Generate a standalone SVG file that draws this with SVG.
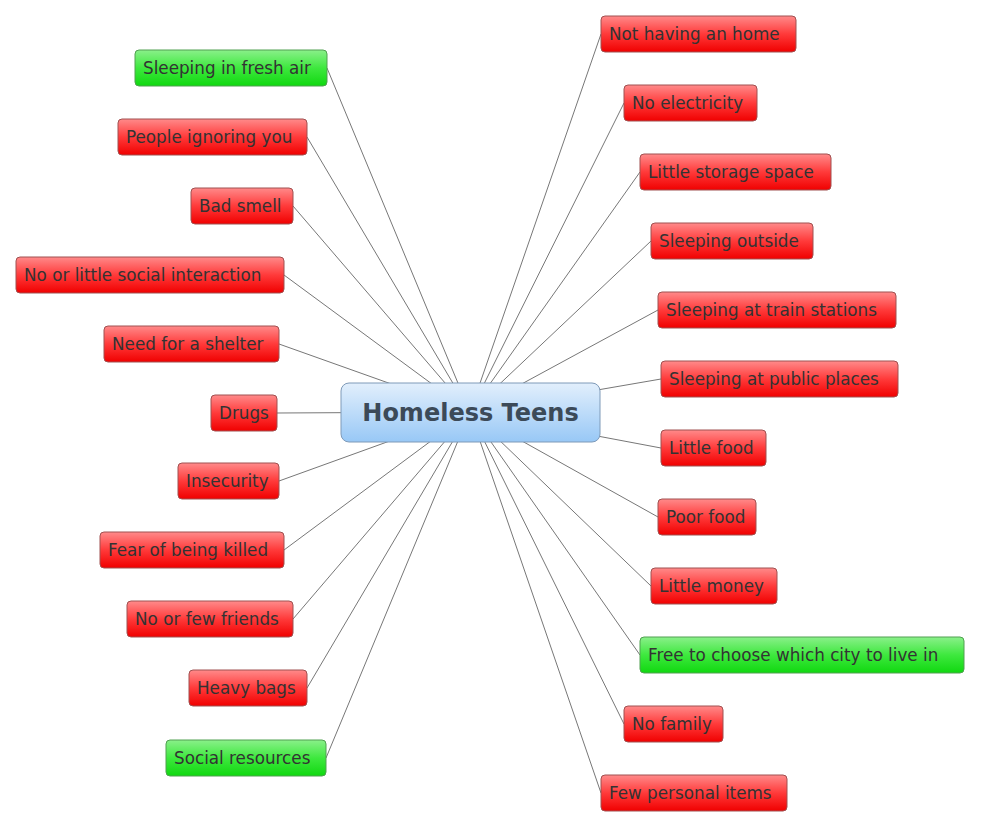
<svg xmlns="http://www.w3.org/2000/svg" width="981" height="828" viewBox="0 0 981 828">
<defs>
<linearGradient id="gr" x1="0" y1="0" x2="0" y2="1"><stop offset="0" stop-color="#ff8a8a"/><stop offset="0.5" stop-color="#ff3a3a"/><stop offset="1" stop-color="#f00000"/></linearGradient>
<linearGradient id="gg" x1="0" y1="0" x2="0" y2="1"><stop offset="0" stop-color="#8af08a"/><stop offset="0.5" stop-color="#3ee83e"/><stop offset="1" stop-color="#10d810"/></linearGradient>
<linearGradient id="gb" x1="0" y1="0" x2="0" y2="1"><stop offset="0" stop-color="#e2effc"/><stop offset="1" stop-color="#98c8f6"/></linearGradient>
</defs>
<style>
.r{fill:url(#gr);stroke:#a05050;stroke-width:1}
.g{fill:url(#gg);stroke:#50a050;stroke-width:1}
.t{font-family:"DejaVu Sans",sans-serif;font-size:16.8px;fill:#333}
.c{stroke:#777;stroke-width:1;fill:none}
</style>
<rect width="981" height="828" fill="#fff"/>
<g id="connectors">
<line class="c" x1="327" y1="68" x2="470" y2="412"/>
<line class="c" x1="307" y1="137" x2="470" y2="412"/>
<line class="c" x1="293" y1="206" x2="470" y2="412"/>
<line class="c" x1="284" y1="275" x2="470" y2="412"/>
<line class="c" x1="279" y1="344" x2="470" y2="412"/>
<line class="c" x1="277" y1="413" x2="470" y2="412"/>
<line class="c" x1="279" y1="481" x2="470" y2="412"/>
<line class="c" x1="284" y1="550" x2="470" y2="412"/>
<line class="c" x1="293" y1="619" x2="470" y2="412"/>
<line class="c" x1="307" y1="688" x2="470" y2="412"/>
<line class="c" x1="326" y1="758" x2="470" y2="412"/>
<line class="c" x1="601" y1="34" x2="470" y2="412"/>
<line class="c" x1="624" y1="103" x2="470" y2="412"/>
<line class="c" x1="640" y1="172" x2="470" y2="412"/>
<line class="c" x1="651" y1="241" x2="470" y2="412"/>
<line class="c" x1="658" y1="310" x2="470" y2="412"/>
<line class="c" x1="661" y1="379" x2="470" y2="412"/>
<line class="c" x1="661" y1="448" x2="470" y2="412"/>
<line class="c" x1="658" y1="517" x2="470" y2="412"/>
<line class="c" x1="651" y1="586" x2="470" y2="412"/>
<line class="c" x1="640" y1="655" x2="470" y2="412"/>
<line class="c" x1="624" y1="724" x2="470" y2="412"/>
<line class="c" x1="601" y1="793" x2="470" y2="412"/>
</g>
<g id="center">
<rect x="341" y="383" width="259" height="59" rx="8" fill="url(#gb)" stroke="#7f9ab8" stroke-width="1"/>
<text x="470.5" y="421" text-anchor="middle" font-family="DejaVu Sans, sans-serif" font-size="24" font-weight="bold" fill="#3c4a58">Homeless Teens</text>
</g>
<g id="n1"><rect class="g" x="135" y="50" width="192" height="36" rx="4"/><text class="t" x="143" y="74">Sleeping in fresh air</text></g>
<g id="n2"><rect class="r" x="118" y="119" width="189" height="36" rx="4"/><text class="t" x="126" y="143">People ignoring you</text></g>
<g id="n3"><rect class="r" x="191" y="188" width="102" height="36" rx="4"/><text class="t" x="199" y="212">Bad smell</text></g>
<g id="n4"><rect class="r" x="16" y="257" width="268" height="36" rx="4"/><text class="t" x="24" y="281">No or little social interaction</text></g>
<g id="n5"><rect class="r" x="104" y="326" width="175" height="36" rx="4"/><text class="t" x="112" y="350">Need for a shelter</text></g>
<g id="n6"><rect class="r" x="211" y="395" width="66" height="36" rx="4"/><text class="t" x="219" y="419">Drugs</text></g>
<g id="n7"><rect class="r" x="178" y="463" width="101" height="36" rx="4"/><text class="t" x="186" y="487">Insecurity</text></g>
<g id="n8"><rect class="r" x="100" y="532" width="184" height="36" rx="4"/><text class="t" x="108" y="556">Fear of being killed</text></g>
<g id="n9"><rect class="r" x="127" y="601" width="166" height="36" rx="4"/><text class="t" x="135" y="625">No or few friends</text></g>
<g id="n10"><rect class="r" x="189" y="670" width="118" height="36" rx="4"/><text class="t" x="197" y="694">Heavy bags</text></g>
<g id="n11"><rect class="g" x="166" y="740" width="160" height="36" rx="4"/><text class="t" x="174" y="764">Social resources</text></g>
<g id="n12"><rect class="r" x="601" y="16" width="195" height="36" rx="4"/><text class="t" x="609" y="40">Not having an home</text></g>
<g id="n13"><rect class="r" x="624" y="85" width="133" height="36" rx="4"/><text class="t" x="632" y="109">No electricity</text></g>
<g id="n14"><rect class="r" x="640" y="154" width="191" height="36" rx="4"/><text class="t" x="648" y="178">Little storage space</text></g>
<g id="n15"><rect class="r" x="651" y="223" width="162" height="36" rx="4"/><text class="t" x="659" y="247">Sleeping outside</text></g>
<g id="n16"><rect class="r" x="658" y="292" width="238" height="36" rx="4"/><text class="t" x="666" y="316">Sleeping at train stations</text></g>
<g id="n17"><rect class="r" x="661" y="361" width="237" height="36" rx="4"/><text class="t" x="669" y="385">Sleeping at public places</text></g>
<g id="n18"><rect class="r" x="661" y="430" width="105" height="36" rx="4"/><text class="t" x="669" y="454">Little food</text></g>
<g id="n19"><rect class="r" x="658" y="499" width="98" height="36" rx="4"/><text class="t" x="666" y="523">Poor food</text></g>
<g id="n20"><rect class="r" x="651" y="568" width="126" height="36" rx="4"/><text class="t" x="659" y="592">Little money</text></g>
<g id="n21"><rect class="g" x="640" y="637" width="324" height="36" rx="4"/><text class="t" x="648" y="661">Free to choose which city to live in</text></g>
<g id="n22"><rect class="r" x="624" y="706" width="99" height="36" rx="4"/><text class="t" x="632" y="730">No family</text></g>
<g id="n23"><rect class="r" x="601" y="775" width="186" height="36" rx="4"/><text class="t" x="609" y="799">Few personal items</text></g>
</svg>
